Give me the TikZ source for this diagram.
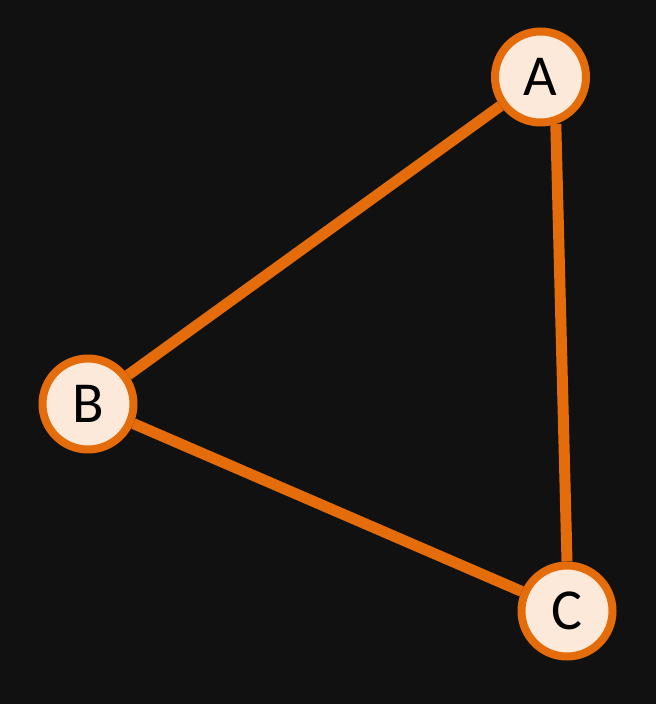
\documentclass[tikz,border=0pt]{standalone}
\usepackage{fontspec}
\setmainfont{Carlito}
\usepackage{tikz}
\usetikzlibrary{positioning}

\definecolor{bgdark}{HTML}{111111}
\definecolor{edgeorange}{HTML}{E46C0A}
\definecolor{nodefill}{HTML}{FDE9D9}

\tikzset{
  vtx/.style={circle, draw=edgeorange, fill=nodefill, line width=8pt,
    minimum size=91pt, inner sep=0pt, text=black,
    font=\fontsize{58}{60}\selectfont},
  link/.style={draw=edgeorange, line width=11pt}
}

\begin{document}
\begin{tikzpicture}[x=1pt, y=1pt]
    \fill[bgdark] (0,0) rectangle (656,704);
    \useasboundingbox (0,0) rectangle (656,704);

    \node[vtx] (A) at (540.5,627) {A};
    \node[vtx] (B) at (88,300) {B};
    \node[vtx] (C) at (567,93) {C};

    \draw[link] (A) -- (B);
    \draw[link] (B) -- (C);
    \draw[link] (A.-72) -- (C.north);
\end{tikzpicture}
\end{document}
